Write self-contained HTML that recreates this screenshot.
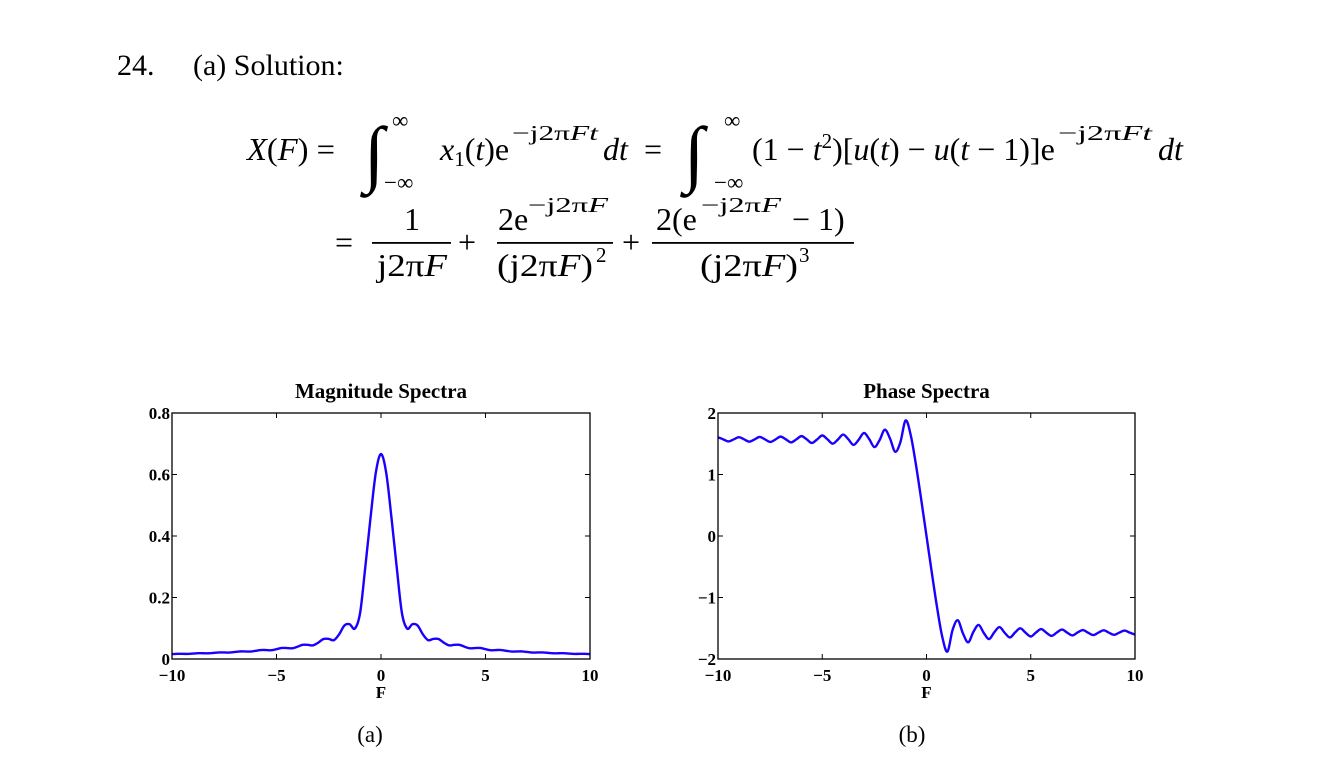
<!DOCTYPE html>
<html><head><meta charset="utf-8">
<style>
html,body{margin:0;padding:0;background:#fff;}
body{width:1335px;height:758px;overflow:hidden;position:relative;font-family:"Liberation Serif",serif;}
svg{position:absolute;left:0;top:0;}
.it{font-style:italic;}
.tk{font-family:"Liberation Serif",serif;font-weight:bold;font-size:17px;}
</style></head>
<body>
<svg id="page" width="1335" height="758" font-family="Liberation Serif, serif">
  <text x="117" y="75" font-size="30">24.</text>
  <text x="193" y="75" font-size="30">(a)  Solution:</text>

  <g font-size="32">
    <text x="247" y="160" textLength="88" lengthAdjust="spacingAndGlyphs"><tspan class="it">X</tspan>(<tspan class="it">F</tspan>) =</text>
    <text x="364" y="178" font-size="74">∫</text>
    <text x="392" y="128" font-size="23">∞</text>
    <text x="384" y="190" font-size="23">−∞</text>
    <text x="440" y="160"><tspan class="it">x</tspan><tspan font-size="21" dy="6">1</tspan><tspan dy="-6">(</tspan><tspan class="it">t</tspan>)e</text>
    <text x="512" y="140" font-size="21" textLength="86" lengthAdjust="spacingAndGlyphs">−j2π<tspan class="it">Ft</tspan></text>
    <text x="603" y="160" class="it">dt</text>
    <text x="644" y="160">=</text>
    <text x="684" y="178" font-size="74">∫</text>
    <text x="724" y="128" font-size="23">∞</text>
    <text x="714" y="190" font-size="23">−∞</text>
    <text x="752" y="160">(1 − <tspan class="it">t</tspan><tspan font-size="21" dy="-12">2</tspan><tspan dy="12">)[</tspan><tspan class="it">u</tspan>(<tspan class="it">t</tspan>) − <tspan class="it">u</tspan>(<tspan class="it">t</tspan> − 1)]e</text>
    <text x="1058" y="140" font-size="21" textLength="94" lengthAdjust="spacingAndGlyphs">−j2π<tspan class="it">Ft</tspan></text>
    <text x="1158" y="160" class="it">dt</text>
  </g>
  <g font-size="32">
    <text x="335" y="253">=</text>
    <text x="404" y="230">1</text>
    <rect x="372" y="242" width="79" height="1.8" fill="#000"/>
    <text x="377" y="276" textLength="70" lengthAdjust="spacingAndGlyphs">j2π<tspan class="it">F</tspan></text>
    <text x="458" y="253">+</text>
    <text x="498" y="230">2e</text>
    <text x="528" y="212" font-size="21" textLength="80" lengthAdjust="spacingAndGlyphs">−j2π<tspan class="it">F</tspan></text>
    <rect x="497" y="242" width="116" height="1.8" fill="#000"/>
    <text x="497" y="276" textLength="96" lengthAdjust="spacingAndGlyphs">(j2π<tspan class="it">F</tspan>)</text>
    <text x="596" y="262" font-size="21">2</text>
    <text x="622" y="253">+</text>
    <text x="656" y="230">2(e</text>
    <text x="701" y="212" font-size="21" textLength="80" lengthAdjust="spacingAndGlyphs">−j2π<tspan class="it">F</tspan></text>
    <text x="792" y="230">− 1)</text>
    <rect x="652" y="242" width="202" height="1.8" fill="#000"/>
    <text x="700" y="276" textLength="98" lengthAdjust="spacingAndGlyphs">(j2π<tspan class="it">F</tspan>)</text>
    <text x="799" y="262" font-size="21">3</text>
  </g>

  <g id="magChart"></g>
  <g id="phaseChart"></g>

  <text x="370" y="742" font-size="23" text-anchor="middle">(a)</text>
  <text x="912" y="742" font-size="23" text-anchor="middle">(b)</text>
</svg>
<script>
const fValues = [-10,-9.75,-9.5,-9.25,-9,-8.75,-8.5,-8.25,-8,-7.75,-7.5,-7.25,-7,-6.75,-6.5,-6.25,-6,-5.75,-5.5,-5.25,-5,-4.75,-4.5,-4.25,-4,-3.75,-3.5,-3.25,-3,-2.75,-2.5,-2.25,-2,-1.75,-1.5,-1.25,-1,-0.75,-0.5,-0.25,0,0.25,0.5,0.75,1,1.25,1.5,1.75,2,2.25,2.5,2.75,3,3.25,3.5,3.75,4,4.25,4.5,4.75,5,5.25,5.5,5.75,6,6.25,6.5,6.75,7,7.25,7.5,7.75,8,8.25,8.5,8.75,9,9.25,9.5,9.75,10];
const magValues = [0.0159,0.0169,0.0168,0.0166,0.0177,0.0189,0.0187,0.0186,0.0199,0.0214,0.0212,0.0210,0.0228,0.0247,0.0245,0.0242,0.0266,0.0292,0.0291,0.0285,0.0319,0.0358,0.0356,0.0348,0.0399,0.0462,0.0460,0.0444,0.0533,0.0650,0.0652,0.0614,0.0806,0.1090,0.1131,0.0991,0.150,0.300,0.460,0.605,0.6667,0.605,0.460,0.300,0.150,0.0991,0.1131,0.1090,0.0806,0.0614,0.0652,0.0650,0.0533,0.0444,0.0460,0.0462,0.0399,0.0348,0.0356,0.0358,0.0319,0.0285,0.0291,0.0292,0.0266,0.0242,0.0245,0.0247,0.0228,0.0210,0.0212,0.0214,0.0199,0.0186,0.0187,0.0189,0.0177,0.0166,0.0168,0.0169,0.0159];
const phaseValues = [1.603,1.572,1.537,1.570,1.607,1.572,1.534,1.570,1.611,1.572,1.529,1.569,1.616,1.572,1.522,1.569,1.624,1.573,1.513,1.569,1.634,1.573,1.501,1.568,1.650,1.574,1.481,1.566,1.676,1.577,1.446,1.559,1.728,1.585,1.370,1.529,1.879,1.630,1.146,0.585,0,-0.585,-1.146,-1.630,-1.879,-1.529,-1.370,-1.585,-1.728,-1.559,-1.446,-1.577,-1.676,-1.566,-1.481,-1.574,-1.650,-1.568,-1.501,-1.573,-1.634,-1.569,-1.513,-1.573,-1.624,-1.569,-1.522,-1.572,-1.616,-1.569,-1.529,-1.572,-1.611,-1.570,-1.534,-1.572,-1.607,-1.570,-1.537,-1.572,-1.603];
const xTicks = [-10,-5,0,5,10];
const xTickLabels = ["\u221210","\u22125","0","5","10"];
const magTicks = [0,0.2,0.4,0.6,0.8];
const magTickLabels = ["0","0.2","0.4","0.6","0.8"];
const phaseTicks = [-2,-1,0,1,2];
const phaseTickLabels = ["\u22122","\u22121","0","1","2"];

const NS = "http://www.w3.org/2000/svg";
function mk(tag, attrs, parent){
  const e = document.createElementNS(NS, tag);
  for (const k in attrs) e.setAttribute(k, attrs[k]);
  parent.appendChild(e);
  return e;
}
function drawChart(g, box, yMin, yMax, yTicks, yLabels, ys, title){
  const sx = v => box.x0 + (v - (-10)) / 20 * (box.x1 - box.x0);
  const sy = v => box.y1 - (v - yMin) / (yMax - yMin) * (box.y1 - box.y0);
  const t = mk('text', {x:(box.x0+box.x1)/2, y:box.y0-15, 'text-anchor':'middle', 'font-weight':'bold', 'font-size':'21'}, g);
  
  
  t.textContent = title;
  xTicks.forEach((v,i)=>{
    const x = sx(v);
    mk('line',{x1:x,y1:box.y1,x2:x,y2:box.y1-5,stroke:'#000','stroke-width':1},g);
    mk('line',{x1:x,y1:box.y0,x2:x,y2:box.y0+5,stroke:'#000','stroke-width':1},g);
    const l = mk('text',{x:x,y:box.y1+22,'text-anchor':'middle',class:'tk'},g);
    
    
    l.textContent = xTickLabels[i];
  });
  yTicks.forEach((v,i)=>{
    const y = sy(v);
    mk('line',{x1:box.x0,y1:y,x2:box.x0+5,y2:y,stroke:'#000','stroke-width':1},g);
    mk('line',{x1:box.x1,y1:y,x2:box.x1-5,y2:y,stroke:'#000','stroke-width':1},g);
    const l = mk('text',{x:box.x0-2,y:y+6,'text-anchor':'end',class:'tk'},g);
    
    
    l.textContent = yLabels[i];
  });
  const xl = mk('text',{x:(box.x0+box.x1)/2,y:box.y1+39,'text-anchor':'middle',class:'tk'},g);
  
  
  xl.textContent = 'F';
  const pts = fValues.map((f,i)=>[sx(f), sy(ys[i])]);
  let d = 'M'+pts[0][0].toFixed(2)+','+pts[0][1].toFixed(2);
  for (let i=0;i<pts.length-1;i++){
    const p0 = pts[Math.max(0,i-1)], p1 = pts[i], p2 = pts[i+1], p3 = pts[Math.min(pts.length-1,i+2)];
    const c1 = [p1[0]+(p2[0]-p0[0])/6, p1[1]+(p2[1]-p0[1])/6];
    const c2 = [p2[0]-(p3[0]-p1[0])/6, p2[1]-(p3[1]-p1[1])/6];
    d += ' C'+c1[0].toFixed(2)+','+c1[1].toFixed(2)+' '+c2[0].toFixed(2)+','+c2[1].toFixed(2)+' '+p2[0].toFixed(2)+','+p2[1].toFixed(2);
  }
  const line = mk('path',{d:d,fill:'none',stroke:'#1a00ff','stroke-width':2.4},g);
  
  
  const frame = mk('rect',{x:box.x0,y:box.y0,width:box.x1-box.x0,height:box.y1-box.y0,fill:'none',stroke:'#000','stroke-width':1.3},g);
  
  
}
drawChart(document.getElementById('magChart'), {x0:172,x1:590,y0:413,y1:659}, 0, 0.8, magTicks, magTickLabels, magValues, 'Magnitude Spectra');
drawChart(document.getElementById('phaseChart'), {x0:718,x1:1135,y0:413,y1:659}, -2, 2, phaseTicks, phaseTickLabels, phaseValues, 'Phase Spectra');
</script>
</body></html>
